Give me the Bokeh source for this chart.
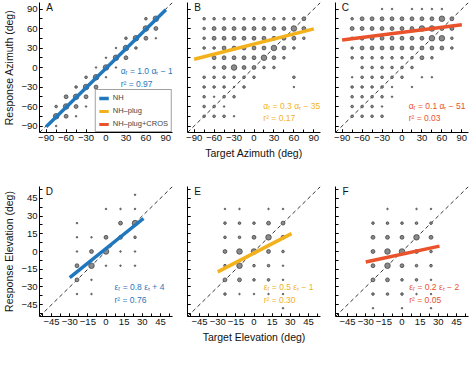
from bokeh.plotting import figure
from bokeh.models import (Range1d, FixedTicker, CustomJSTickFormatter, Label,
                          Legend, LegendItem, ColumnDataSource)
from bokeh.layouts import column, row
from bokeh.embed import file_html
from bokeh.resources import INLINE

# ---------------- data ----------------
AZ_TARGETS = [-75, -60, -45, -30, -15, 0, 15, 30, 45, 60, 75]
AZ_RESPONSES = [90, 75, 60, 45, 30, 15, 0, -15, -30, -45, -60, -75, -90]
EL_TARGETS = [-24, -12, 0, 12, 24]
EL_RESPONSES = [48, 36, 24, 12, 0, -12, -24, -36, -48]

AZ_TICKS = [-90, -60, -30, 0, 30, 60, 90]
AZ_MINOR = [-90, -75, -60, -45, -30, -15, 0, 15, 30, 45, 60, 75, 90]
EL_TICKS = [-45, -30, -15, 0, 15, 30, 45]
EL_MINOR = [-52.5, -45, -37.5, -30, -22.5, -15, -7.5, 0, 7.5, 15, 22.5, 30, 37.5, 45, 52.5]
AZ_LIM = [-100, 100]
EL_LIM = [-55, 55]

# response frequency classes (0 = none, 4 = most), rows = responses, cols = targets
A_COUNTS = [
    [0, 0, 0, 0, 0, 0, 0, 0, 0, 0, 0],
    [0, 0, 0, 0, 0, 0, 0, 0, 0, 2, 4],
    [0, 0, 0, 0, 0, 0, 0, 0, 0, 4, 3],
    [0, 0, 0, 0, 0, 0, 0, 2, 4, 3, 1],
    [0, 0, 0, 0, 0, 0, 1, 4, 2, 0, 0],
    [0, 0, 0, 0, 0, 1, 4, 3, 0, 0, 0],
    [0, 0, 0, 0, 1, 4, 1, 0, 0, 0, 0],
    [0, 0, 0, 2, 4, 1, 0, 0, 0, 0, 0],
    [0, 0, 2, 4, 3, 0, 0, 0, 0, 0, 0],
    [0, 3, 4, 3, 0, 0, 0, 0, 0, 0, 0],
    [2, 4, 3, 1, 0, 0, 0, 0, 0, 0, 0],
    [4, 3, 1, 0, 0, 0, 0, 0, 0, 0, 0],
    [1, 0, 0, 0, 0, 0, 0, 0, 0, 0, 0],
]
B_COUNTS = [
    [0, 0, 0, 0, 0, 0, 0, 0, 0, 0, 0],
    [2, 2, 2, 2, 2, 2, 2, 2, 2, 2, 3],
    [2, 3, 3, 3, 3, 3, 3, 3, 3, 4, 3],
    [2, 3, 3, 3, 3, 3, 3, 3, 3, 3, 2],
    [2, 2, 3, 3, 3, 3, 3, 4, 3, 2, 0],
    [0, 3, 3, 3, 3, 3, 4, 3, 2, 0, 0],
    [0, 2, 3, 4, 3, 3, 2, 2, 0, 0, 0],
    [2, 2, 2, 2, 2, 2, 0, 0, 0, 2, 0],
    [2, 2, 2, 1, 2, 0, 0, 0, 0, 1, 0],
    [2, 1, 2, 2, 0, 0, 0, 0, 0, 0, 0],
    [2, 2, 1, 0, 0, 0, 0, 0, 0, 0, 0],
    [2, 2, 2, 1, 0, 0, 0, 0, 0, 0, 0],
    [0, 0, 0, 0, 0, 0, 0, 0, 0, 0, 0],
]
C_COUNTS = [
    [0, 0, 0, 1, 1, 0, 1, 1, 1, 1, 0],
    [2, 3, 3, 3, 3, 3, 3, 3, 3, 4, 3],
    [3, 3, 3, 3, 3, 3, 3, 4, 4, 3, 3],
    [2, 3, 3, 3, 3, 3, 3, 3, 4, 4, 2],
    [2, 3, 3, 3, 3, 3, 3, 3, 3, 3, 2],
    [2, 2, 2, 2, 2, 2, 2, 3, 2, 0, 0],
    [0, 2, 2, 2, 2, 2, 2, 0, 0, 0, 0],
    [1, 2, 2, 2, 2, 2, 0, 1, 1, 0, 0],
    [2, 2, 2, 2, 1, 0, 1, 0, 0, 0, 0],
    [2, 2, 2, 2, 1, 0, 0, 0, 0, 0, 0],
    [2, 2, 2, 1, 0, 0, 0, 0, 0, 0, 0],
    [2, 2, 2, 2, 0, 0, 0, 0, 0, 0, 0],
    [0, 0, 0, 0, 0, 0, 0, 0, 0, 0, 0],
]
D_COUNTS = [
    [0, 0, 0, 0, 1],
    [0, 0, 1, 1, 1],
    [1, 0, 0, 3, 4],
    [1, 1, 3, 3, 2],
    [1, 3, 4, 1, 1],
    [3, 4, 1, 1, 1],
    [3, 1, 0, 0, 0],
    [1, 1, 0, 0, 0],
    [0, 0, 0, 0, 0],
]
E_COUNTS = [
    [0, 0, 0, 0, 0],
    [1, 1, 0, 1, 1],
    [2, 2, 2, 3, 3],
    [2, 2, 3, 4, 3],
    [3, 4, 4, 3, 2],
    [2, 4, 2, 2, 1],
    [3, 3, 2, 2, 1],
    [2, 1, 1, 1, 1],
    [0, 0, 0, 0, 1],
]
F_COUNTS = [
    [0, 0, 0, 0, 0],
    [0, 1, 0, 1, 1],
    [2, 2, 2, 2, 2],
    [3, 3, 3, 4, 3],
    [3, 4, 4, 3, 2],
    [3, 4, 3, 2, 2],
    [3, 3, 2, 2, 1],
    [2, 2, 2, 1, 1],
    [1, 0, 1, 0, 1],
]

# fitted regression lines (slope, intercept) as drawn
FIT_A = [1.0, -1]
FIT_B = [0.26, 36]
FIT_C = [0.13, 54]
FIT_D = [0.82, 2.5]
FIT_E = [0.53, -1.3]
FIT_F = [0.22, -2.3]
AZ_FIT_X = [-90, 90]
EL_FIT_X = [-30, 31]

EQ_A = ["αᵣ = 1.0 αₜ − 1", "r² = 0.97"]
EQ_B = ["αᵣ = 0.3 αₜ − 35", "r² = 0.17"]
EQ_C = ["αᵣ = 0.1 αₜ − 51", "r² = 0.03"]
EQ_D = ["εᵣ = 0.8 εₜ + 4", "r² = 0.76"]
EQ_E = ["εᵣ = 0.5 εₜ − 1", "r² = 0.30"]
EQ_F = ["εᵣ = 0.2 εₜ − 2", "r² = 0.05"]

LEGEND_LABELS = ["NH", "NH–plug", "NH–plug+CROS"]

# ---------------- style ----------------
BLUE = "#1f78bd"
ORANGE = "#f3b21c"
RED = "#e9522a"
FONT = "Liberation Sans"
FW, FH = 133, 130
SIZE_PX = {1: 1.6, 2: 2.7, 3: 3.9, 4: 5.6}
NAN = float("nan")


def fmt(v):
    return ("−" if v < 0 else "") + str(abs(v))


def panel(kind, counts, fit, color, letter, eq, eq_xy, show_ylabels=False,
          xlab=None, ylab=None, top=2, bottom=44, left=7, right=8):
    if kind == "az":
        lim, tg, rs, ticks, minor, fx = AZ_LIM, AZ_TARGETS, AZ_RESPONSES, AZ_TICKS, AZ_MINOR, AZ_FIT_X
    else:
        lim, tg, rs, ticks, minor, fx = EL_LIM, EL_TARGETS, EL_RESPONSES, EL_TICKS, EL_MINOR, EL_FIT_X
    p = figure(frame_width=FW, frame_height=FH,
               x_range=Range1d(lim[0], lim[1]), y_range=Range1d(lim[0], lim[1]),
               output_backend="svg", toolbar_location=None,
               min_border_left=left, min_border_right=right,
               min_border_top=top, min_border_bottom=bottom)
    p.outline_line_color = None
    p.grid.visible = False
    p.background_fill_color = "white"

    for ax in (p.xaxis[0], p.yaxis[0]):
        ax.ticker = FixedTicker(ticks=ticks, minor_ticks=minor)
        ax.major_tick_in = 3
        ax.major_tick_out = 0
        ax.minor_tick_in = 3
        ax.minor_tick_out = 0
        ax.axis_line_color = "black"
        ax.major_tick_line_color = "black"
        ax.minor_tick_line_color = "black"
        ax.major_label_text_font = FONT
        ax.major_label_text_font_size = "9.5px"
        ax.major_label_text_color = "#111111"
        ax.major_label_standoff = 2
        ax.major_label_overrides = {t: fmt(t) for t in ticks}
        ax.axis_label_text_font = FONT
        ax.axis_label_text_font_size = "10.5px"
        ax.axis_label_text_font_style = "normal"
        ax.axis_label_text_color = "#111111"
        ax.axis_label_standoff = 3
    if not show_ylabels:
        p.yaxis[0].formatter = CustomJSTickFormatter(code="return ''")
        p.yaxis[0].major_label_overrides = {}
    if xlab:
        p.xaxis[0].axis_label = xlab
    if ylab:
        p.yaxis[0].axis_label = ylab

    # identity line
    p.line(x=lim, y=lim, line_color="black", line_width=0.8, line_dash="4 3")

    xs, ys, ss = [], [], []
    for i, r in enumerate(rs):
        for j, t in enumerate(tg):
            c = counts[i][j]
            if c > 0:
                xs.append(t)
                ys.append(r)
                ss.append(SIZE_PX[c])
    src = ColumnDataSource(dict(x=xs, y=ys, s=ss))
    p.scatter(x="x", y="y", size="s", source=src, fill_color="#8a8a8a",
              line_color="#3a3a3a", line_width=0.7)

    fy = [fit[0] * v + fit[1] for v in fx]
    fr = p.line(x=fx, y=fy, line_color=color, line_width=3.5)

    p.add_layout(Label(x=lim[0] + (lim[1] - lim[0]) * 0.075, y=lim[1] - (lim[1] - lim[0]) * 0.04,
                       text=letter, text_font=FONT, text_font_size="10px",
                       text_color="#111111", text_align="center", text_baseline="middle"))
    for k, line in enumerate(eq):
        p.add_layout(Label(x=eq_xy[0], y=eq_xy[1 + k], text=line, text_font=FONT,
                           text_font_size="8.5px", text_color=color,
                           text_align="left", text_baseline="middle"))
    return p, fr


pA, rA = panel("az", A_COUNTS, FIT_A, BLUE, "A", EQ_A, [22, -6, -26],
               show_ylabels=True, ylab="Response Azimuth (deg)", left=0)
pB, _ = panel("az", B_COUNTS, FIT_B, ORANGE, "B", EQ_B, [14, -59, -78],
              xlab="Target Azimuth (deg)")
pC, _ = panel("az", C_COUNTS, FIT_C, RED, "C", EQ_C, [10, -59, -78], right=1)
pD, _ = panel("el", D_COUNTS, FIT_D, BLUE, "D", EQ_D, [7, -30, -41],
              show_ylabels=True, ylab="Response Elevation (deg)", left=0, top=10, bottom=36)
pE, _ = panel("el", E_COUNTS, FIT_E, ORANGE, "E", EQ_E, [8, -30, -41],
              xlab="Target Elevation (deg)", top=10, bottom=36)
pF, _ = panel("el", F_COUNTS, FIT_F, RED, "F", EQ_F, [6, -30, -41], top=10, bottom=36, right=1)

# legend in panel A (legend-only entries for the other two conditions)
r_plug = pA.line(x=[NAN], y=[NAN], line_color=ORANGE, line_width=3)
r_cros = pA.line(x=[NAN], y=[NAN], line_color=RED, line_width=3)
legend = Legend(items=[LegendItem(label=LEGEND_LABELS[0], renderers=[rA]),
                       LegendItem(label=LEGEND_LABELS[1], renderers=[r_plug]),
                       LegendItem(label=LEGEND_LABELS[2], renderers=[r_cros])],
                location="bottom_right", margin=0, padding=3, spacing=4,
                label_text_font=FONT, label_text_font_size="7.5px",
                label_height=8, glyph_height=8, glyph_width=10, label_standoff=4,
                border_line_color="#444444", border_line_width=1,
                background_fill_color="white", background_fill_alpha=1)
pA.add_layout(legend)

layout = column(row(pA, pB, pC), row(pD, pE, pF))

with open("out.html", "w") as f:
    f.write(file_html(layout, INLINE))
